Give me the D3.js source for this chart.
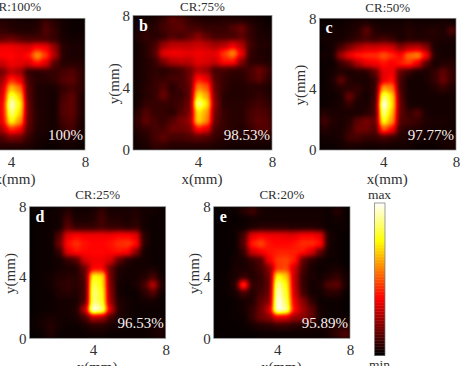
<!DOCTYPE html>
<html>
<head>
<meta charset="utf-8">
<script src="https://cdn.jsdelivr.net/npm/d3@7"></script>
<style>
  html, body { margin: 0; padding: 0; background: #fff; overflow: hidden; }
  text { font-family: "Liberation Serif", serif; fill: #303030; }
</style>
</head>
<body>
<div id="plot"></div>
<script>
// rows run from y=8 down to y=0, columns from x=0 to x=8
const gridA = [
  [2,3,3,4,5,6,6,5,4,4,5,10,6,3,2,2],
  [2,3,4,5,8,8,8,6,5,5,6,12,8,3,2,2],
  [3,4,6,8,10,12,14,16,12,10,10,10,8,4,3,3],
  [4,8,18,30,34,36,36,36,34,32,38,36,22,6,4,4],
  [4,10,28,38,38,38,38,38,36,40,60,46,26,6,4,4],
  [3,6,16,28,30,28,30,36,34,32,40,32,12,6,6,6],
  [2,4,6,8,10,12,18,28,24,8,6,8,8,10,12,8],
  [2,4,6,8,10,14,24,44,36,10,6,6,8,12,14,8],
  [2,4,6,8,10,14,30,66,54,12,5,4,4,8,10,8],
  [3,6,8,8,10,14,34,84,68,12,5,4,3,10,14,6],
  [4,8,10,8,10,14,38,96,76,14,5,4,3,12,14,6],
  [4,8,10,8,10,16,38,88,70,14,6,4,3,12,14,6],
  [3,6,8,8,10,16,36,76,60,14,6,4,3,10,12,5],
  [3,5,6,6,8,14,26,44,38,12,5,4,3,8,10,4],
  [2,4,6,6,6,8,12,18,16,8,4,3,3,4,5,3],
  [2,3,4,4,4,5,6,6,6,5,3,2,2,3,3,2]
];
const gridB = [
  [3,3,5,8,14,12,8,6,5,5,6,5,5,4,3,2],
  [4,5,6,10,12,14,10,10,8,8,8,12,16,8,4,3],
  [5,8,6,8,12,10,14,20,14,10,10,10,14,8,5,4],
  [3,6,10,22,28,28,28,30,28,24,26,34,26,10,5,5],
  [3,6,12,34,36,36,34,36,34,34,46,58,36,8,5,4],
  [3,5,8,18,26,28,28,34,32,30,40,40,20,7,6,5],
  [3,5,7,6,8,10,16,26,22,10,10,8,8,10,16,10],
  [3,5,8,8,10,10,16,40,34,12,8,6,6,10,14,8],
  [3,6,8,12,6,10,14,56,50,14,8,5,5,6,6,5],
  [3,6,8,16,8,8,14,72,62,16,6,5,5,6,8,6],
  [3,8,8,8,8,10,16,90,72,18,6,6,6,8,10,8],
  [6,12,8,8,6,12,18,72,62,16,8,6,6,10,12,10],
  [8,14,10,8,12,18,22,70,58,14,8,6,6,10,14,12],
  [6,8,10,10,16,16,18,40,34,10,8,6,5,8,12,12],
  [4,6,10,14,10,10,12,14,12,8,6,5,5,5,6,6],
  [3,4,8,8,6,6,6,6,6,5,4,3,3,3,3,3]
];
const gridC = [
  [2,2,2,3,4,5,3,3,3,3,4,3,3,3,4,3],
  [2,3,3,4,6,14,6,4,4,4,6,4,5,6,4,12],
  [3,3,3,5,8,10,8,10,8,4,6,5,5,5,4,4],
  [2,3,10,18,26,30,30,32,30,20,26,28,20,4,3,3],
  [3,3,24,36,42,44,44,50,44,38,54,58,38,6,3,3],
  [2,2,8,14,26,34,36,40,36,42,46,34,12,3,5,6],
  [2,3,5,4,5,6,14,34,36,14,8,4,4,8,14,8],
  [2,4,14,6,4,4,8,34,40,10,3,3,4,8,16,8],
  [2,3,6,6,8,4,8,62,56,10,3,3,3,5,8,5],
  [2,2,4,16,6,3,8,88,70,12,3,3,3,3,3,3],
  [2,3,4,8,4,4,10,100,72,14,4,3,3,3,3,3],
  [6,4,4,4,4,6,10,90,66,14,8,12,4,3,3,3],
  [10,6,4,6,14,18,14,78,60,12,10,8,5,4,4,3],
  [6,4,4,8,16,16,12,50,38,8,6,5,4,3,3,3],
  [3,3,4,10,10,8,8,10,8,5,4,4,3,3,4,5],
  [2,2,3,4,4,3,3,4,3,3,3,2,2,2,3,4]
];
const gridD = [
  [2,2,2,3,6,3,3,4,8,4,4,4,5,3,3,2],
  [1,2,2,3,10,4,4,5,10,5,5,4,6,3,2,2],
  [1,2,2,3,14,8,8,8,10,8,8,6,8,3,2,2],
  [1,2,2,12,34,38,36,36,36,36,38,38,34,6,2,2],
  [1,2,2,16,40,44,40,38,38,40,44,46,40,6,2,2],
  [1,2,2,8,34,40,38,38,38,38,40,38,20,3,2,2],
  [1,2,2,3,8,12,32,36,36,32,14,6,3,3,2,2],
  [1,2,2,3,4,5,16,38,38,16,5,3,3,3,4,2],
  [1,2,3,5,6,6,12,76,72,16,4,3,3,5,10,3],
  [1,2,3,6,8,6,10,84,74,18,3,2,4,10,28,6],
  [1,2,2,5,6,5,10,88,78,20,3,2,2,6,12,3],
  [1,2,2,3,3,4,12,88,80,22,5,3,2,3,3,2],
  [1,2,2,3,3,5,28,100,90,32,6,3,2,2,2,2],
  [2,3,4,3,3,4,10,26,24,10,4,3,2,2,2,2],
  [2,3,6,3,2,2,4,6,6,4,3,2,2,2,3,4],
  [1,2,5,2,2,2,2,3,3,2,2,2,2,2,3,5]
];
const gridE = [
  [1,2,2,6,10,4,3,3,3,3,3,3,3,2,6,2],
  [1,1,1,2,3,3,3,3,3,3,3,3,3,2,3,2],
  [1,1,2,2,4,6,6,6,6,5,5,5,4,2,2,2],
  [1,1,2,10,34,38,36,36,34,34,38,38,34,4,2,1],
  [1,1,2,12,42,48,40,38,38,40,44,44,40,4,2,1],
  [1,1,2,8,30,36,40,42,42,42,40,32,14,3,2,1],
  [1,1,3,4,8,12,36,46,48,42,14,6,3,2,2,1],
  [1,1,4,4,6,10,20,46,48,30,10,4,2,3,4,2],
  [1,2,4,8,5,8,16,76,68,28,8,4,3,5,8,3],
  [1,2,6,48,8,8,14,90,76,28,8,3,4,12,14,4],
  [1,2,3,10,5,10,16,96,80,30,10,3,3,6,6,2],
  [1,1,2,3,5,14,20,100,85,34,20,8,2,2,2,1],
  [1,1,2,3,8,16,30,100,92,38,24,14,3,2,2,1],
  [1,1,2,2,8,16,20,32,30,22,20,14,3,2,2,2],
  [1,1,1,2,3,5,6,8,8,6,5,4,3,4,6,6],
  [1,1,1,1,1,2,2,2,2,2,2,2,2,4,8,12]
];
const grids = [gridA, gridB, gridC, gridD, gridE];
const letters = ["a", "b", "c", "d", "e"];
const titles = ["CR:100%", "CR:75%", "CR:50%", "CR:25%", "CR:20%"];
const scores = ["100%", "98.53%", "97.77%", "96.53%", "95.89%"];
const xTicks = [4, 8];
const yTicks = [0, 4, 8];

// panel boxes in page pixels, the first one runs off the left edge
const boxes = [
  {l: -54, r: 85, t: 18.3, b: 150, titleY: 11},
  {l: 133, r: 272, t: 15.5, b: 150, titleY: 11},
  {l: 319.5, r: 456, t: 18.3, b: 150, titleY: 11.5},
  {l: 29.5, r: 165.7, t: 206.7, b: 338.3, titleY: 199},
  {l: 213.7, r: 350, t: 206.7, b: 338.3, titleY: 199}
];

const w = 474;
const h = 366;
const svg = d3.select("#plot").append("svg").attr("width", w).attr("height", h);
const defs = svg.append("defs");

const hot = d3.scaleLinear()
    .domain([0, 37.5, 75, 100])
    .range(["#000000", "#ff0000", "#ffff00", "#ffffff"])
    .clamp(true);

// cells are painted as grey values, blurred, then pushed through the hot map
const gray = d3.scaleLinear().domain([0, 100]).range(["#000000", "#ffffff"]).clamp(true);
const hotStops = d3.range(0, 101, 2.5).map(v => d3.rgb(hot(v)));

const soft = defs.append("filter")
    .attr("id", "soft")
    .attr("filterUnits", "userSpaceOnUse")
    .attr("x", -80).attr("y", -20).attr("width", w + 160).attr("height", h + 40)
    .attr("color-interpolation-filters", "sRGB");
soft.append("feGaussianBlur").attr("stdDeviation", 2.8);
const transfer = soft.append("feComponentTransfer");
["R", "G", "B"].forEach(ch => {
  transfer.append("feFunc" + ch)
      .attr("type", "table")
      .attr("tableValues", hotStops.map(c => (c[ch.toLowerCase()] / 255).toFixed(3)).join(" "));
});

grids.forEach((grid, i) => drawPanel(grid, i));
drawColorbar();

function drawPanel(grid, i) {
  const box = boxes[i];
  const g = svg.append("g").attr("class", "panel");
  const cols = d3.range(grid[0].length);
  const rows = d3.range(grid.length);

  const xCell = d3.scaleBand().domain(cols).range([box.l, box.r]);
  const yCell = d3.scaleBand().domain(rows).range([box.t, box.b]);

  // the 4 labels sit a little off the middle of the box in the original
  const mx = (box.l + box.r) / 2;
  const my = (box.t + box.b) / 2;
  const xScale = d3.scaleLinear().domain([0, 4, 8]).range([box.l, mx - 4.5, box.r]);
  const yScale = d3.scaleLinear().domain([0, 4, 8]).range([box.b, my + 4.5, box.t]);

  defs.append("clipPath").attr("id", "clip" + i)
      .append("rect")
      .attr("x", box.l).attr("y", box.t)
      .attr("width", box.r - box.l).attr("height", box.b - box.t);

  const inner = g.append("g")
      .attr("clip-path", "url(#clip" + i + ")")
      .append("g")
      .attr("filter", "url(#soft)");

  inner.append("rect")
      .attr("x", box.l - 12).attr("y", box.t - 12)
      .attr("width", box.r - box.l + 24).attr("height", box.b - box.t + 24)
      .attr("fill", "#000");

  inner.selectAll("g")
      .data(grid)
      .enter()
      .append("g")
      .selectAll("rect")
      .data((row, r) => row.map((v, c) => ({r: r, c: c, v: v})))
      .enter()
      .append("rect")
      .attr("x", d => xCell(d.c))
      .attr("y", d => yCell(d.r))
      .attr("width", xCell.bandwidth() + 0.5)
      .attr("height", yCell.bandwidth() + 0.5)
      .attr("fill", d => gray(d.v));

  g.append("rect")
      .attr("x", box.l).attr("y", box.t)
      .attr("width", box.r - box.l).attr("height", box.b - box.t)
      .attr("fill", "none")
      .attr("stroke", "#8a8a8a")
      .attr("stroke-width", 0.7);

  const xAxis = d3.axisBottom(xScale).tickValues(xTicks).tickSize(0).tickPadding(6);
  const yAxis = d3.axisLeft(yScale).tickValues(yTicks).tickSize(0).tickPadding(3);

  const gx = g.append("g").attr("transform", "translate(0," + box.b + ")").call(xAxis);
  const gy = g.append("g").attr("transform", "translate(" + box.l + ",0)").call(yAxis);
  gx.select(".domain").remove();
  gy.select(".domain").remove();
  gx.selectAll("text").style("font-family", '"Liberation Serif", serif').style("font-size", "15px").style("fill", "#303030");
  gy.selectAll("text").style("font-family", '"Liberation Serif", serif').style("font-size", "15px").style("fill", "#303030");

  g.append("text")
      .attr("x", mx)
      .attr("y", box.titleY)
      .attr("text-anchor", "middle")
      .style("font-size", "13px")
      .text(titles[i]);

  g.append("text")
      .attr("x", mx - 0.5)
      .attr("y", box.b + 34)
      .attr("text-anchor", "middle")
      .style("font-size", "15px")
      .text("x(mm)");

  g.append("text")
      .attr("transform", "translate(" + (box.l - 14.5) + "," + (my + 1) + ") rotate(-90)")
      .attr("text-anchor", "middle")
      .style("font-size", "15px")
      .text("y(mm)");

  g.append("text")
      .attr("x", box.r - 2)
      .attr("y", box.b - 10.5)
      .attr("text-anchor", "end")
      .style("font-size", "15px")
      .style("fill", "#f4f0ee")
      .text(scores[i]);

  g.append("text")
      .attr("x", box.l + 6)
      .attr("y", box.t + 15)
      .style("font-size", "16px")
      .style("font-weight", "bold")
      .style("fill", "#fff")
      .text(letters[i]);
}

function drawColorbar() {
  const bar = {l: 374.5, r: 385, t: 203, b: 355.5};
  const levels = d3.range(0, 100, 1);
  const yBar = d3.scaleBand().domain(levels).range([bar.b, bar.t]);
  const g = svg.append("g").attr("class", "colorbar");

  g.selectAll("rect")
      .data(levels)
      .enter()
      .append("rect")
      .attr("x", bar.l)
      .attr("y", d => yBar(d))
      .attr("width", bar.r - bar.l)
      .attr("height", yBar.bandwidth() + 0.4)
      .attr("fill", d => hot(d));

  g.append("rect")
      .attr("x", bar.l).attr("y", bar.t)
      .attr("width", bar.r - bar.l).attr("height", bar.b - bar.t)
      .attr("fill", "none")
      .attr("stroke", "#777")
      .attr("stroke-width", 0.7);

  g.append("text").attr("x", 379.5).attr("y", 199).attr("text-anchor", "middle")
      .style("font-size", "13.5px").text("max");
  g.append("text").attr("x", 379.5).attr("y", 369).attr("text-anchor", "middle")
      .style("font-size", "13.5px").text("min");
}
</script>
</body>
</html>
